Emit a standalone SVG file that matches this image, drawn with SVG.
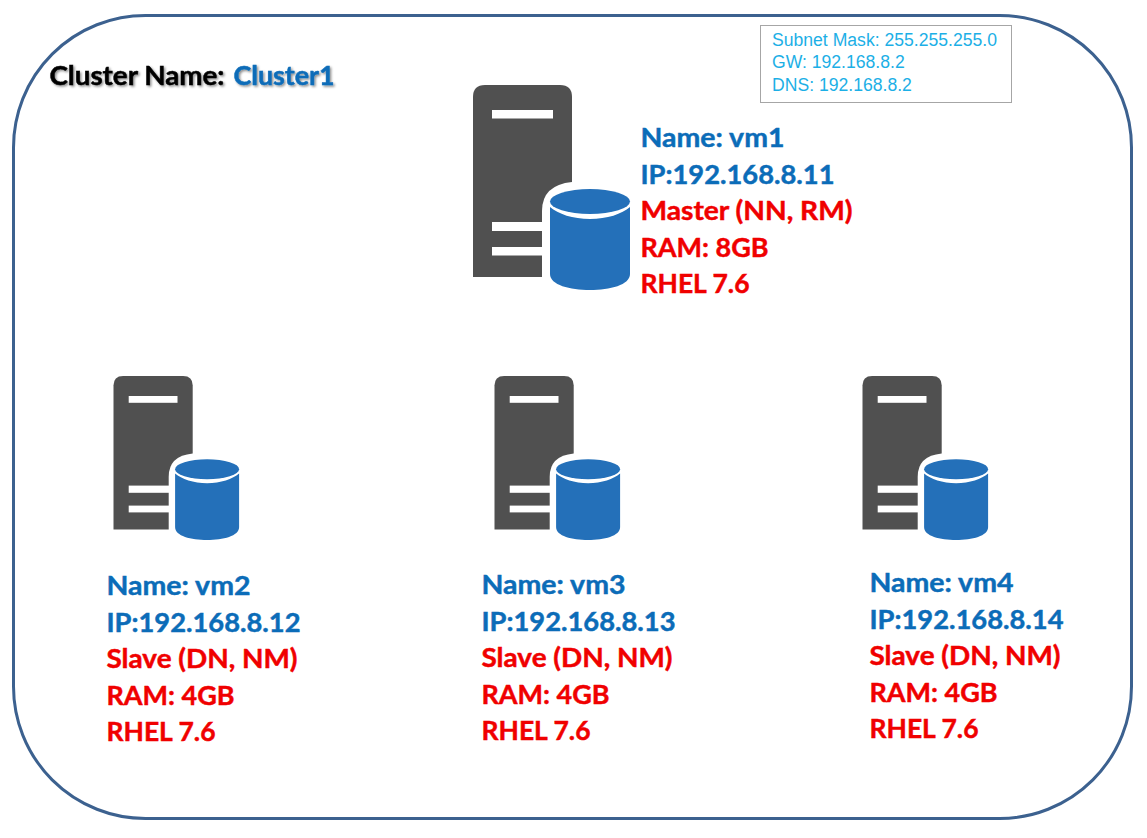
<svg xmlns="http://www.w3.org/2000/svg" width="1147" height="838" viewBox="0 0 1147 838">
<style>
text{font-family:"Lato","Noto Sans","Liberation Sans",sans-serif;font-weight:700;font-size:26px;stroke-width:.45px;paint-order:stroke}
.b{fill:#0b6cb8;stroke:#0b6cb8}.r{fill:#f00000;stroke:#f00000}.k{fill:#000;stroke:#000}
text.info{font-family:"Liberation Sans",Arial,sans-serif;font-weight:400;font-size:17.6px;fill:#1cafe6;stroke:none}
</style>
<defs>
<filter id="sh" x="-5%" y="-30%" width="110%" height="170%"><feDropShadow dx="1.5" dy="1.5" stdDeviation="1.2" flood-color="#000" flood-opacity="0.45"/></filter>
<g id="icon">
<path d="M0 192V12Q0 0 12 0H87Q99 0 99 12V192Z" fill="#505050"/>
<rect x="19" y="25" width="61" height="8.500" fill="#fff"/>
<rect x="19" y="137" width="61" height="9" fill="#fff"/>
<rect x="19" y="162" width="61" height="8.500" fill="#fff"/>
<path d="M69 205V126Q69 100 99 97H162V205Z" fill="#fff"/>
<path d="M77 122C85 129 100 134 117 134C134 134 149 129 157 122V189C157 200 137 205 117 205C97 205 77 200 77 189Z" fill="#2470b9"/>
<ellipse cx="117" cy="116.500" rx="40" ry="12.500" fill="#2470b9"/>
</g>
</defs>
<rect width="1147" height="838" fill="#fff"/>
<rect id="cluster" x="13.500" y="15.500" width="1118" height="803" rx="132" ry="132" fill="#fff" stroke="#3c618f" stroke-width="3"/>
<g id="title" filter="url(#sh)"><text class="k" x="49.500" y="85" textLength="175" lengthAdjust="spacingAndGlyphs">Cluster Name:</text><text x="233.500" y="85" class="b" textLength="101" lengthAdjust="spacingAndGlyphs">Cluster1</text></g>
<g id="info"><rect x="760.500" y="25.500" width="251" height="77" fill="#fff" stroke="#a6a6a6" stroke-width="1"/>
<text class="info" x="772" y="46">Subnet Mask: 255.255.255.0</text><text class="info" x="772" y="68">GW: 192.168.8.2</text><text class="info" x="772" y="91">DNS: 192.168.8.2</text></g>
<g id="connectors"></g>
<g id="vm1"><use href="#icon" x="473" y="85"/>
<text class="b" x="640.500" y="147" textLength="144" lengthAdjust="spacingAndGlyphs">Name: vm1</text>
<text class="b" x="640.500" y="183.500" textLength="194" lengthAdjust="spacingAndGlyphs">IP:192.168.8.11</text>
<text class="r" x="640.500" y="220" textLength="212" lengthAdjust="spacingAndGlyphs">Master (NN, RM)</text>
<text class="r" x="640.500" y="256.500" textLength="128" lengthAdjust="spacingAndGlyphs">RAM: 8GB</text>
<text class="r" x="640.500" y="293" textLength="109" lengthAdjust="spacingAndGlyphs">RHEL 7.6</text></g>
<g id="vm2"><use href="#icon" transform="translate(113.500 376) scale(.8)"/>
<text class="b" x="106.500" y="595" textLength="144" lengthAdjust="spacingAndGlyphs">Name: vm2</text>
<text class="b" x="106.500" y="631.500" textLength="194" lengthAdjust="spacingAndGlyphs">IP:192.168.8.12</text>
<text class="r" x="106.500" y="668" textLength="191" lengthAdjust="spacingAndGlyphs">Slave (DN, NM)</text>
<text class="r" x="106.500" y="704.500" textLength="128" lengthAdjust="spacingAndGlyphs">RAM: 4GB</text>
<text class="r" x="106.500" y="741" textLength="109" lengthAdjust="spacingAndGlyphs">RHEL 7.6</text></g>
<g id="vm3"><use href="#icon" transform="translate(494.500 376) scale(.8)"/>
<text class="b" x="481.500" y="594" textLength="144" lengthAdjust="spacingAndGlyphs">Name: vm3</text>
<text class="b" x="481.500" y="630.500" textLength="194" lengthAdjust="spacingAndGlyphs">IP:192.168.8.13</text>
<text class="r" x="481.500" y="667" textLength="191" lengthAdjust="spacingAndGlyphs">Slave (DN, NM)</text>
<text class="r" x="481.500" y="703.500" textLength="128" lengthAdjust="spacingAndGlyphs">RAM: 4GB</text>
<text class="r" x="481.500" y="740" textLength="109" lengthAdjust="spacingAndGlyphs">RHEL 7.6</text></g>
<g id="vm4"><use href="#icon" transform="translate(862.500 376) scale(.8)"/>
<text class="b" x="869.500" y="592" textLength="144" lengthAdjust="spacingAndGlyphs">Name: vm4</text>
<text class="b" x="869.500" y="628.500" textLength="194" lengthAdjust="spacingAndGlyphs">IP:192.168.8.14</text>
<text class="r" x="869.500" y="665" textLength="191" lengthAdjust="spacingAndGlyphs">Slave (DN, NM)</text>
<text class="r" x="869.500" y="701.500" textLength="128" lengthAdjust="spacingAndGlyphs">RAM: 4GB</text>
<text class="r" x="869.500" y="738" textLength="109" lengthAdjust="spacingAndGlyphs">RHEL 7.6</text></g>
</svg>
